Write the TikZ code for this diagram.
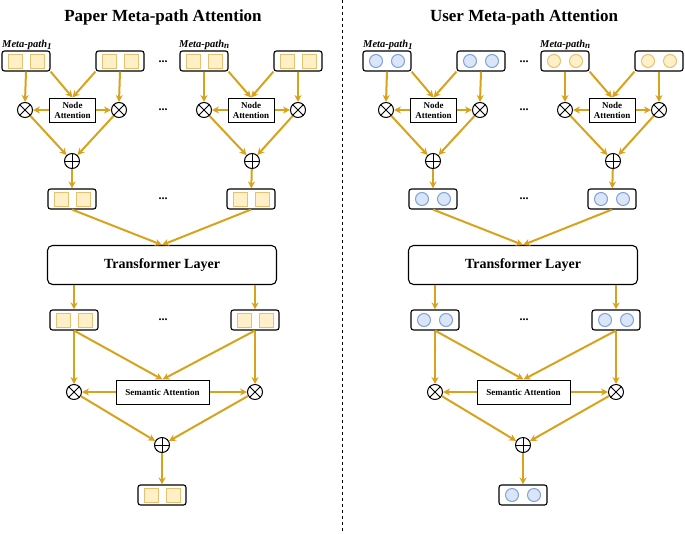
\documentclass[tikz,border=0pt]{standalone}
\usepackage{fontspec}
\setmainfont{Liberation Serif}
\usetikzlibrary{arrows.meta}
\definecolor{gold}{HTML}{D9A21B}
\definecolor{sqf}{HTML}{FFF0C8}
\definecolor{sqb}{HTML}{E5C170}
\definecolor{cbf}{HTML}{DAE6F8}
\definecolor{cbb}{HTML}{7EA2DA}
\tikzset{
 emb/.style={draw, rounded corners=2.5pt, minimum width=48pt, minimum height=20pt, line width=1.1pt, inner sep=0},
 sq/.style={draw=sqb, fill=sqf, minimum size=14pt, inner sep=0, line width=1pt},
 cb/.style={circle, draw=cbb, fill=cbf, minimum size=13pt, inner sep=0, line width=1pt},
 cy/.style={circle, draw=sqb, fill=sqf, minimum size=13pt, inner sep=0, line width=1pt},
 ot/.style={circle, draw, minimum size=15pt, line width=1pt, inner sep=0,
   path picture={\draw[line width=1pt] (path picture bounding box.north west)--(path picture bounding box.south east) (path picture bounding box.north east)--(path picture bounding box.south west);}},
 op/.style={circle, draw, minimum size=15pt, line width=1pt, inner sep=0,
   path picture={\draw[line width=1pt] (path picture bounding box.north)--(path picture bounding box.south) (path picture bounding box.east)--(path picture bounding box.west);}},
 att/.style={draw, line width=1pt, font=\bfseries\fontsize{9}{10}\selectfont, align=center, inner sep=1pt},
 arr/.style={draw=gold, line width=2pt, -{Stealth[length=7pt,width=7pt]}},
 dots/.style={font=\bfseries\fontsize{12}{12}\selectfont},
 ttl/.style={font=\bfseries\fontsize{17}{20}\selectfont},
 mp/.style={font=\bfseries\itshape\fontsize{10.5}{12}\selectfont, anchor=base west, inner sep=0}
}
\newcommand\myemb[4]{%
 \node[emb] (#1) at (#2,#3) {};
 \node[#4] at ([xshift=-11pt]#1.center) {};
 \node[#4] at ([xshift=11pt]#1.center) {};}
\newcommand\mypanel[6]{%
 \node[ttl] (#1t) at (#2+163,17) {#3};
 \node[mp] (#1m1) at (#2+2,47) {Meta-path\textsubscript{\fontsize{9}{9}\selectfont\textit{1}}};
 \node[mp] (#1mn) at (#2+179,47) {Meta-path\textsubscript{\fontsize{9}{9}\selectfont\textit{n}}};
 \myemb{#1b1}{#2+26}{61}{#4}
 \myemb{#1b2}{#2+120}{61}{#4}
 \myemb{#1b3}{#2+204}{61}{#5}
 \myemb{#1b4}{#2+298}{61}{#5}
 \node[ot] (#1o1) at (#2+25,110) {};
 \node[ot] (#1o2) at (#2+119,110) {};
 \node[ot] (#1o3) at (#2+204,110) {};
 \node[ot] (#1o4) at (#2+298,110) {};
 \node[att, minimum width=46pt, minimum height=24pt] (#1n1) at (#2+72.5,110) {Node\\Attention};
 \node[att, minimum width=46pt, minimum height=24pt] (#1n2) at (#2+251,110) {Node\\Attention};
 \node[op] (#1p1) at (#2+72,161) {};
 \node[op] (#1p2) at (#2+252,161) {};
 \myemb{#1c1}{#2+72}{199}{#6}
 \myemb{#1c2}{#2+251}{199}{#6}
 \node[draw, rounded corners=5pt, line width=1.1pt, minimum width=229pt, minimum height=39pt, font=\bfseries\fontsize{14}{16}\selectfont] (#1tr) at (#2+162,265) {Transformer Layer};
 \myemb{#1d1}{#2+74}{320}{#6}
 \myemb{#1d2}{#2+255}{320}{#6}
 \node[ot] (#1s1) at (#2+74,392) {};
 \node[ot] (#1s2) at (#2+255,392) {};
 \node[att, minimum width=93pt, minimum height=24pt] (#1sa) at (#2+162.5,392) {Semantic Attention};
 \node[op] (#1q) at (#2+162,445) {};
 \myemb{#1f}{#2+162}{495}{#6}
 \node[dots] (#1e1) at (#2+163,62) {...};
 \node[dots] (#1e2) at (#2+163,110) {...};
 \node[dots] (#1e3) at (#2+163,199) {...};
 \node[dots] (#1e4) at (#2+163,320) {...};
 \draw[arr] (#1b1.south) -- (#1o1.north);
 \draw[arr] (#1b2.south) -- (#1o2.north);
 \draw[arr] (#1b3.south) -- (#1o3.north);
 \draw[arr] (#1b4.south) -- (#1o4.north);
 \draw[arr] (#1b1.south east) -- (#1n1.north);
 \draw[arr] (#1b2.south west) -- (#1n1.north);
 \draw[arr] (#1b3.south east) -- (#1n2.north);
 \draw[arr] (#1b4.south west) -- (#1n2.north);
 \draw[arr] (#1n1.west) -- (#1o1);
 \draw[arr] (#1n1.east) -- (#1o2);
 \draw[arr] (#1n2.west) -- (#1o3);
 \draw[arr] (#1n2.east) -- (#1o4);
 \draw[arr] (#1o1) -- (#1p1);
 \draw[arr] (#1o2) -- (#1p1);
 \draw[arr] (#1o3) -- (#1p2);
 \draw[arr] (#1o4) -- (#1p2);
 \draw[arr] (#1p1) -- (#1c1);
 \draw[arr] (#1p2) -- (#1c2);
 \draw[arr] (#1c1.south) -- (#1tr.north);
 \draw[arr] (#1c2.south) -- (#1tr.north);
 \draw[arr] (#1tr.south -| #1d1) -- (#1d1.north);
 \draw[arr] (#1tr.south -| #1d2) -- (#1d2.north);
 \draw[arr] (#1d1.south) -- (#1s1.north);
 \draw[arr] (#1d2.south) -- (#1s2.north);
 \draw[arr] (#1d1.south) -- (#1sa.north);
 \draw[arr] (#1d2.south) -- (#1sa.north);
 \draw[arr] (#1sa.west) -- (#1s1);
 \draw[arr] (#1sa.east) -- (#1s2);
 \draw[arr] (#1s1) -- (#1q);
 \draw[arr] (#1s2) -- (#1q);
 \draw[arr] (#1q) -- (#1f);
}
\begin{document}
\begin{tikzpicture}[x=1pt,y=-1pt]
\useasboundingbox (0,0) rectangle (685,533);
\mypanel{L}{0}{Paper Meta-path Attention}{sq}{sq}{sq}
\mypanel{R}{361}{User Meta-path Attention}{cb}{cy}{cb}
\coordinate (dt) at (342,0);
\coordinate (db) at (342,533);
\draw[dashed, line width=1pt] (dt) -- (db);
\end{tikzpicture}
\end{document}
